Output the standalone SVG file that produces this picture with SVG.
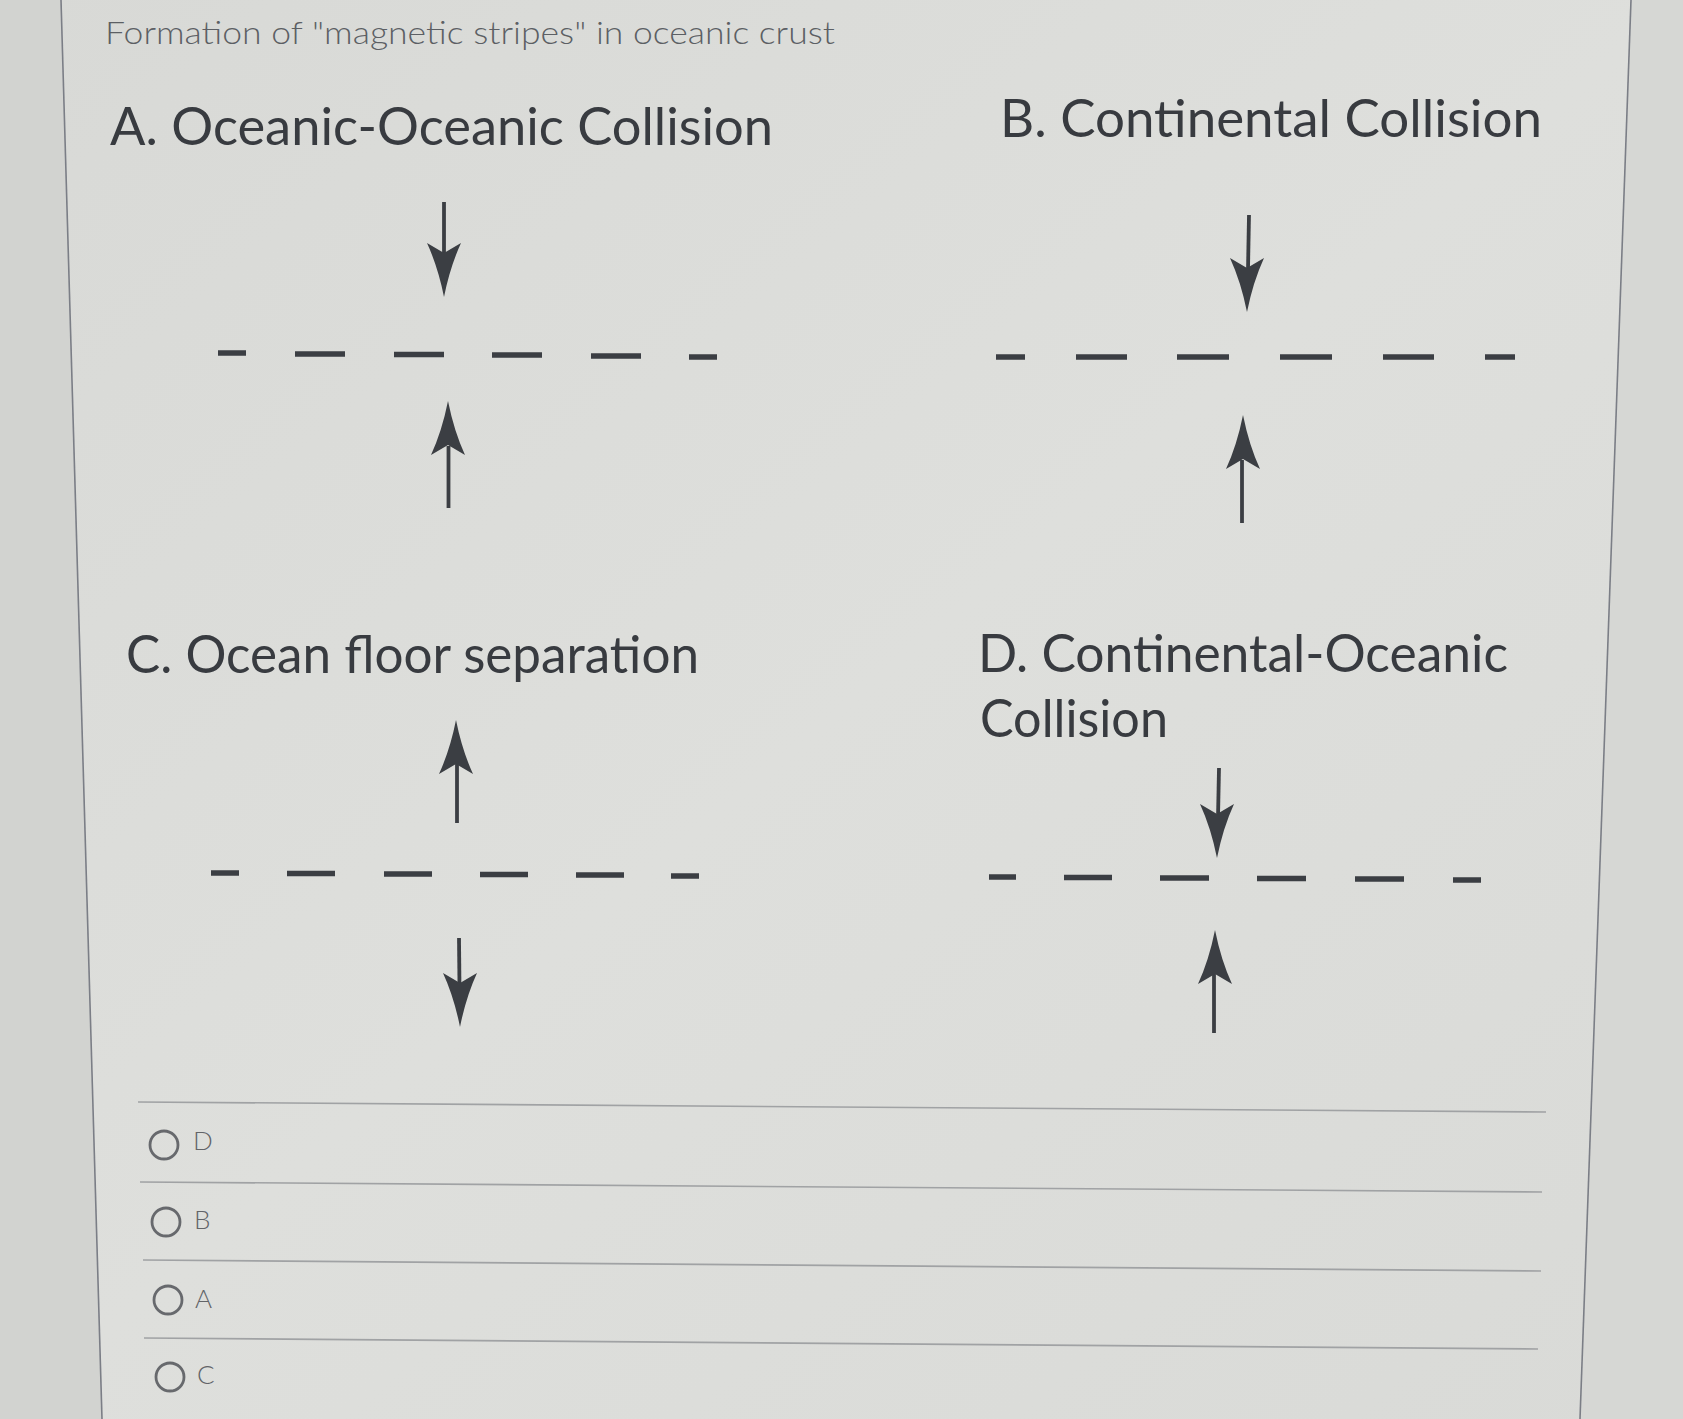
<svg xmlns="http://www.w3.org/2000/svg" xmlns:xlink="http://www.w3.org/1999/xlink" width="1683" height="1419" viewBox="0 0 1683 1419">
<style>
.head{font-family:Lato,"Open Sans","Liberation Sans",sans-serif;font-size:53px;fill:#383b40}
.title{font-family:Lato,"Open Sans","Liberation Sans",sans-serif;font-size:31px;font-weight:300;fill:#5c5f64}
.opt{font-family:Lato,"Open Sans","Liberation Sans",sans-serif;font-size:26px;font-weight:300;fill:#626468}
.dash{stroke:#3b3e43;stroke-width:5.5;fill:none}
.shaft{stroke:#3b3e43;stroke-width:3.8;fill:none}
.ah{fill:#3b3e43}
.sep{stroke:#a0a2a4;stroke-width:1.6;fill:none}
.radio{fill:none;stroke:#67696d;stroke-width:2.8}
.edge{stroke:#7b7e86;stroke-width:1.6;fill:none}
</style>
<defs>
<linearGradient id="bg" x1="0" y1="0" x2="1" y2="1">
<stop offset="0" stop-color="#d8d9d6"/>
<stop offset="0.5" stop-color="#dedfdc"/>
<stop offset="1" stop-color="#d9dad7"/>
</linearGradient>
<path id="arrowDown" d="M0,0 Q-6,-30 -17,-54 L0,-44 L17,-54 Q6,-30 0,0 Z"/>
</defs>
<rect x="0" y="0" width="1683" height="1419" fill="url(#bg)"/>
<polygon points="0,0 61,0 102,1419 0,1419" fill="#d2d3d0"/>
<polygon points="1631,0 1683,0 1683,1419 1580,1419" fill="#d6d7d4"/>
<line class="edge" x1="61" y1="0" x2="102" y2="1419"/>
<line class="edge" x1="1631" y1="0" x2="1580" y2="1419"/>

<g id="title">
<text class="title" x="105" y="44" textLength="730" lengthAdjust="spacingAndGlyphs">Formation of "magnetic stripes" in oceanic crust</text>
</g>

<g id="panel-a">
<text class="head" x="110" y="145" textLength="663" lengthAdjust="spacingAndGlyphs">A. Oceanic-Oceanic Collision</text>
<path class="dash" d="M218,353H246 M295,354H345 M394,354.5H444 M492,355H542 M591,356H641 M689,357H717"/>
</g>

<g id="panel-b">
<text class="head" x="1000" y="137" textLength="542" lengthAdjust="spacingAndGlyphs">B. Continental Collision</text>
<path class="dash" d="M996,357H1025 M1076,357H1127 M1177,357H1229 M1280,357H1332 M1383,357H1434 M1485,357H1515"/>
</g>

<g id="panel-c">
<text class="head" x="126" y="673" textLength="573" lengthAdjust="spacingAndGlyphs">C. Ocean floor separation</text>
<path class="dash" d="M211,873H239 M287,873.5H335 M384,874H432 M480,874.5H528 M576,875H624 M671,876H699"/>
</g>

<g id="panel-d">
<text class="head" x="978" y="672" textLength="530" lengthAdjust="spacingAndGlyphs">D. Continental-Oceanic</text>
<text class="head" x="980" y="737" textLength="188" lengthAdjust="spacingAndGlyphs">Collision</text>
<path class="dash" d="M989,877H1016 M1064,877.5H1112 M1160,878H1209 M1257,878.5H1306 M1355,879H1404 M1453,880H1481"/>
</g>

<g id="connectors">
<line class="shaft" x1="444" y1="202" x2="444" y2="256"/>
<use xlink:href="#arrowDown" href="#arrowDown" class="ah" transform="translate(444,297)"/>
<line class="shaft" x1="448.5" y1="446" x2="448.5" y2="508"/>
<use xlink:href="#arrowDown" href="#arrowDown" class="ah" transform="translate(448,401) scale(1,-1)"/>
<line class="shaft" x1="1249" y1="215" x2="1248" y2="270"/>
<use xlink:href="#arrowDown" href="#arrowDown" class="ah" transform="translate(1247,312)"/>
<line class="shaft" x1="1242" y1="460" x2="1242" y2="523"/>
<use xlink:href="#arrowDown" href="#arrowDown" class="ah" transform="translate(1243,415) scale(1,-1)"/>
<line class="shaft" x1="457" y1="764" x2="457" y2="823"/>
<use xlink:href="#arrowDown" href="#arrowDown" class="ah" transform="translate(456,720) scale(1,-1)"/>
<line class="shaft" x1="459" y1="938" x2="459.5" y2="988"/>
<use xlink:href="#arrowDown" href="#arrowDown" class="ah" transform="translate(460,1027)"/>
<line class="shaft" x1="1219" y1="768" x2="1218" y2="818"/>
<use xlink:href="#arrowDown" href="#arrowDown" class="ah" transform="translate(1217,858)"/>
<line class="shaft" x1="1214" y1="974" x2="1214" y2="1033"/>
<use xlink:href="#arrowDown" href="#arrowDown" class="ah" transform="translate(1215,930) scale(1,-1)"/>
</g>

<g id="options">
<line class="sep" x1="138" y1="1102" x2="1546" y2="1112"/>
<line class="sep" x1="140" y1="1182" x2="1542" y2="1192"/>
<line class="sep" x1="143" y1="1260" x2="1541" y2="1271"/>
<line class="sep" x1="144" y1="1338" x2="1538" y2="1349"/>
<g id="opt-d"><circle class="radio" cx="164" cy="1145" r="14"/><text class="opt" x="193" y="1150">D</text></g>
<g id="opt-b"><circle class="radio" cx="166" cy="1222" r="14"/><text class="opt" x="194" y="1229">B</text></g>
<g id="opt-a"><circle class="radio" cx="168" cy="1300" r="14"/><text class="opt" x="195" y="1308">A</text></g>
<g id="opt-c"><circle class="radio" cx="170" cy="1377" r="14"/><text class="opt" x="197" y="1384">C</text></g>
</g>
</svg>
